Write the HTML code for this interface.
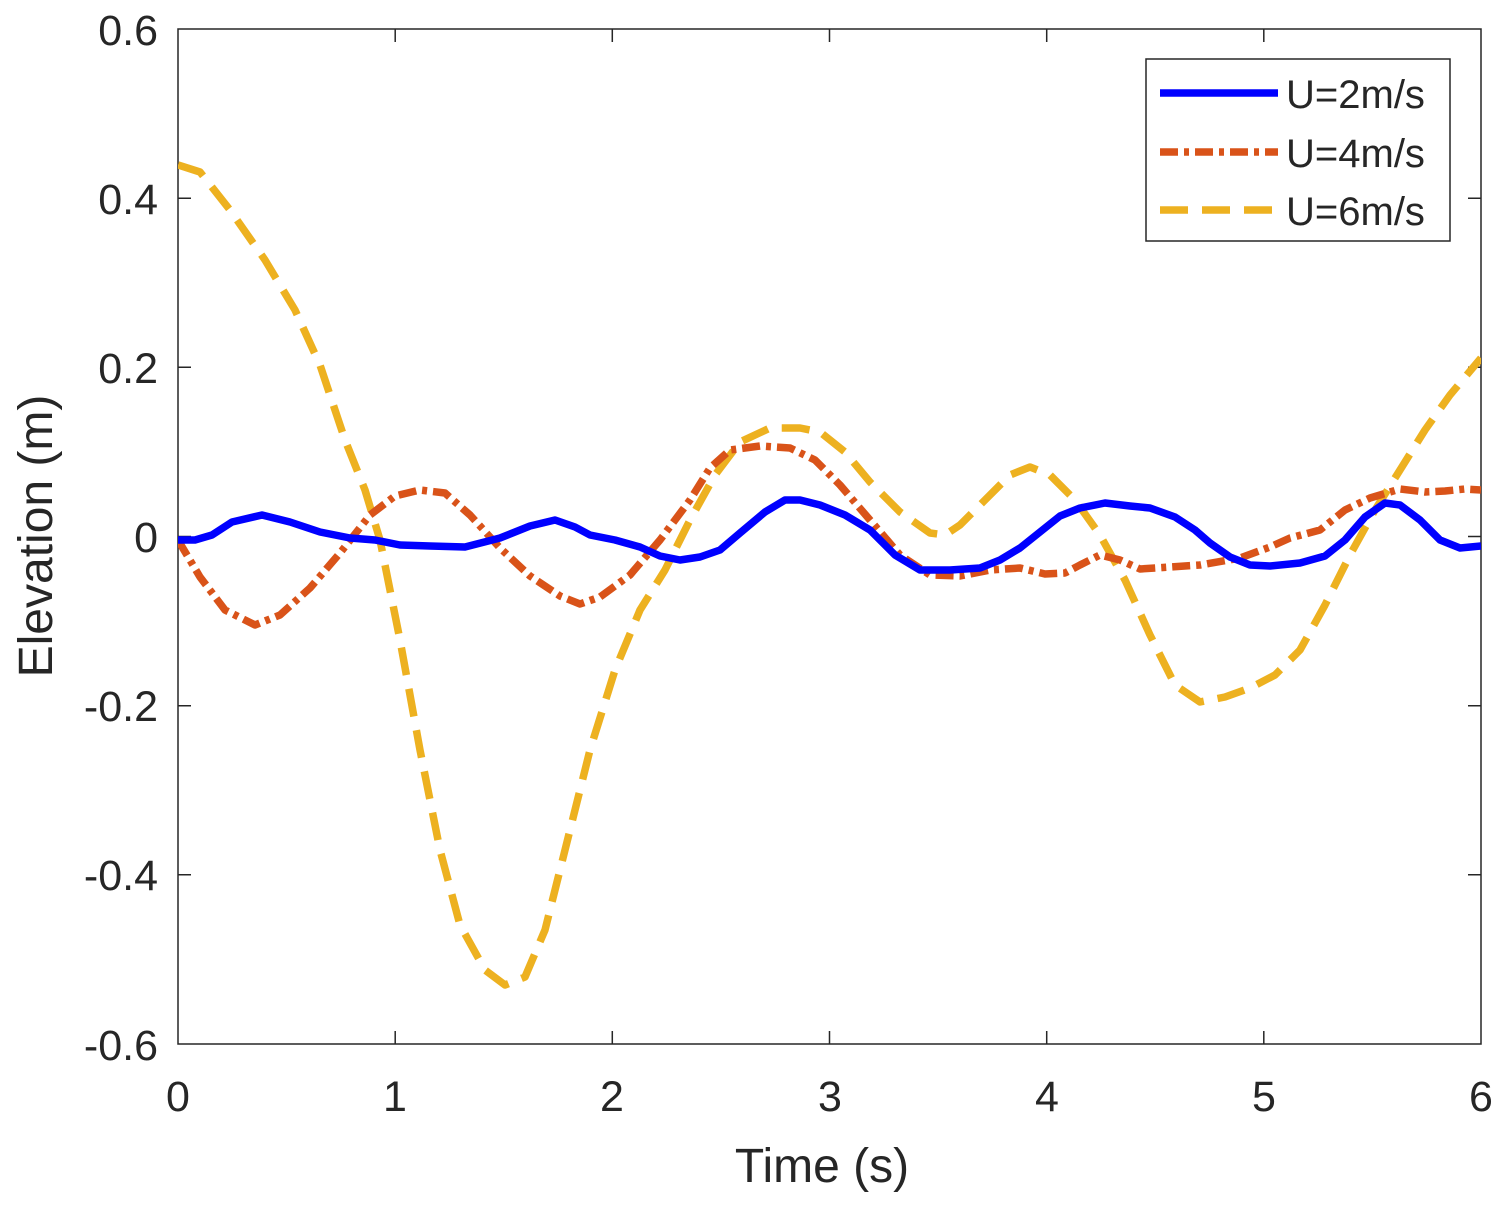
<!DOCTYPE html>
<html><head><style>body{margin:0;background:#fff}</style></head><body>
<svg width="1506" height="1204" xmlns="http://www.w3.org/2000/svg" font-family="Liberation Sans, sans-serif" fill="#262626">
<rect x="0" y="0" width="1506" height="1204" fill="#fff"/>
<defs><clipPath id="c"><rect x="178" y="29" width="1303" height="1015"/></clipPath></defs>
<g stroke="#262626" stroke-width="1.5" fill="none">
<rect x="178" y="29" width="1303" height="1015"/>
<path d="M395.2,1044v-13M612.3,1044v-13M829.5,1044v-13M1046.7,1044v-13M1263.8,1044v-13M395.2,29v13M612.3,29v13M829.5,29v13M1046.7,29v13M1263.8,29v13"/>
<path d="M178,198.2h13M178,367.3h13M178,536.5h13M178,705.7h13M178,874.8h13M1481,198.2h-13M1481,367.3h-13M1481,536.5h-13M1481,705.7h-13M1481,874.8h-13"/>
</g>
<g font-size="43" text-anchor="end">
<text x="158" y="45">0.6</text><text x="158" y="214">0.4</text><text x="158" y="383">0.2</text><text x="158" y="552">0</text><text x="158" y="721">-0.2</text><text x="158" y="890">-0.4</text><text x="158" y="1060">-0.6</text>
</g>
<g font-size="43" text-anchor="middle">
<text x="178" y="1111">0</text><text x="395" y="1111">1</text><text x="612" y="1111">2</text><text x="830" y="1111">3</text><text x="1047" y="1111">4</text><text x="1264" y="1111">5</text><text x="1481" y="1111">6</text>
<text x="822" y="1182" font-size="48">Time (s)</text>
<text transform="translate(52,536) rotate(-90)" font-size="48">Elevation (m)</text>
</g>
<g clip-path="url(#c)" fill="none" stroke-linejoin="round" stroke-width="7.5">
<polyline stroke="#edb120" stroke-dasharray="28,14" points="178,165 200,172 230,210 265,260 295,310 320,365 345,440 365,490 380,540 400,640 420,750 440,850 460,925 485,970 505,985 525,977 545,930 565,850 590,750 615,670 640,610 665,570 690,520 715,475 740,442 770,428 800,428 820,432 845,452 870,482 900,512 930,533 945,535 960,525 985,500 1010,475 1030,467 1050,475 1075,500 1100,535 1125,580 1150,635 1175,685 1200,702 1225,697 1250,688 1275,675 1300,650 1325,605 1350,555 1375,510 1400,470 1425,430 1450,395 1481,358"/>
<polyline stroke="#d95319" stroke-dasharray="18,6,5,6" points="178,540 200,577 225,610 255,625 280,615 310,588 340,553 370,515 395,496 420,490 445,493 470,515 500,548 530,576 560,596 580,604 600,597 630,575 660,540 690,500 710,468 730,450 760,446 790,448 815,460 840,485 870,520 900,555 930,575 960,576 990,570 1020,568 1045,574 1065,573 1080,565 1100,555 1120,560 1140,569 1170,567 1200,565 1240,558 1270,547 1290,538 1320,530 1345,510 1370,498 1400,489 1425,492 1445,491 1465,489 1481,490"/>
<polyline stroke="#0000ff" points="178,540 195,540 212,535 232,522 262,515 290,522 320,532 350,538 375,540 400,545 430,546 465,547 500,538 530,526 555,520 575,527 590,535 615,540 640,547 660,556 680,560 700,557 720,550 740,533 765,512 785,500 800,500 820,505 845,515 870,530 895,555 920,570 950,570 980,568 1000,560 1020,548 1040,532 1060,516 1080,508 1105,503 1130,506 1150,508 1175,517 1195,530 1210,543 1230,557 1250,565 1270,566 1300,563 1325,556 1345,540 1365,517 1385,503 1400,505 1420,520 1440,540 1460,548 1481,546"/>
</g>
<rect x="1146" y="59" width="304" height="182" fill="#fff" stroke="#262626" stroke-width="1.5"/>
<g stroke-width="7.5" fill="none">
<path d="M1160,93h118" stroke="#0000ff"/>
<path d="M1160,152h118" stroke="#d95319" stroke-dasharray="18,6,5,6"/>
<path d="M1160,210h118" stroke="#edb120" stroke-dasharray="28,14"/>
</g>
<g font-size="40"><text x="1286" y="108">U=2m/s</text><text x="1286" y="167">U=4m/s</text><text x="1286" y="225">U=6m/s</text></g>
</svg>
</body></html>
